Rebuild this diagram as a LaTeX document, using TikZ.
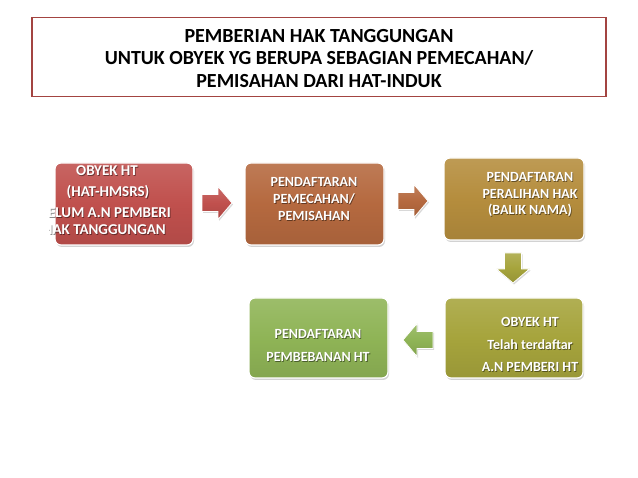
\documentclass[tikz,border=0pt]{standalone}
\usepackage{fontspec}
\setmainfont{Carlito}
\usetikzlibrary{shadows}
\definecolor{cRed}{HTML}{C0504D}
\definecolor{cOrange}{HTML}{B5693F}
\definecolor{cGold}{HTML}{B58D3D}
\definecolor{cOlive}{HTML}{A6A43C}
\definecolor{cGreen}{HTML}{8FB456}
\tikzset{
  box/.style={rounded corners=6pt, draw=white, line width=1.2pt, inner sep=0pt,
    top color=#1!88!white, bottom color=#1!92!black, middle color=#1,
    drop shadow={shadow xshift=1pt, shadow yshift=-2pt, opacity=0.35}},
  barrow/.style={draw=white, line width=0.8pt,
    top color=#1!85!white, bottom color=#1!90!black, middle color=#1,
    drop shadow={shadow xshift=1pt, shadow yshift=-1.5pt, opacity=0.3}},
  txt/.style={font=\bfseries\fontsize{14}{16}\selectfont, text=white, inner sep=0pt,
    anchor=base, yshift=-4.5pt},
  txtsh/.style={txt, text=black, opacity=0.45},
  big/.style={font=\bfseries\fontsize{15}{17}\selectfont, yshift=-0.3pt},
  ttl/.style={font=\bfseries\fontsize{20}{23}\selectfont, text=black, inner sep=0pt,
    anchor=base, yshift=-6.4pt}
}
\newcommand\shtxt[5][base]{%
  \node[txtsh, anchor=#1] (#2s) at (#3+0.8,#4+0.9) {#5};
  \node[txt, anchor=#1] (#2) at (#3,#4) {#5};}
\newcommand\shtxtb[5][base]{%
  \node[txtsh, big, anchor=#1] (#2s) at (#3+0.8,#4+0.9) {#5};
  \node[txt, big, anchor=#1] (#2) at (#3,#4) {#5};}
% block arrow: name, centre x, centre y, rotation, colour
\newcommand\blockarrow[5]{%
  \coordinate (#1) at (#2,#3);
  \begin{scope}[shift={(#1)}, rotate=#4]
    \path[barrow=#5] (-15,-8.5) -- (1,-8.5) -- (1,-16.5) -- (15,0) -- (1,16.5) -- (1,8.5) -- (-15,8.5) -- cycle;
  \end{scope}}
\begin{document}
\begin{tikzpicture}[x=1pt,y=-1pt]
\useasboundingbox[fill=white] (0,0) rectangle (638,478);
% title
\node[draw=cRed!85!black, line width=1.3pt, minimum width=574pt, minimum height=79pt, inner sep=0pt] (title) at (319,57) {};
\node[ttl] (t1) at (319,36) {PEMBERIAN HAK TANGGUNGAN};
\node[ttl] (t2) at (319,58.5) {UNTUK OBYEK YG BERUPA SEBAGIAN PEMECAHAN/};
\node[ttl] (t3) at (319,81) {PEMISAHAN DARI HAT-INDUK};
% boxes
\node[box=cRed, minimum width=138pt, minimum height=82pt] (b1) at (124,204) {};
\node[box=cOrange, minimum width=139pt, minimum height=82pt] (b2) at (314.5,204) {};
\node[box=cGold, minimum width=140pt, minimum height=82pt] (b3) at (514,199) {};
\node[box=cOlive, minimum width=138pt, minimum height=80pt] (b4) at (514,338) {};
\node[box=cGreen, minimum width=139pt, minimum height=80pt] (b5) at (318.5,338) {};
% block arrows
\blockarrow{a1}{217}{203}{0}{cRed}
\blockarrow{a2}{413}{201}{0}{cOrange}
\blockarrow{a3}{513}{268}{-90}{cOlive}
\blockarrow{a4}{418}{340}{180}{cGreen}
% texts box 1
\shtxtb{x11}{107}{171}{OBYEK HT}
\shtxtb{x12}{108}{192}{(HAT-HMSRS)}
\begin{scope}
\clip (49,200) rectangle (200,240);
\shtxtb[base east]{x13}{171}{213}{BELUM A.N PEMBERI}
\shtxtb[base east]{x14}{166}{229.5}{HAK TANGGUNGAN}
\end{scope}
% box 2
\shtxt{x21}{314}{182}{PENDAFTARAN}
\shtxt{x22}{314}{199}{PEMECAHAN/}
\shtxt{x23}{314}{216}{PEMISAHAN}
% box 3
\shtxt{x31}{530}{177}{PENDAFTARAN}
\shtxt{x32}{530}{194}{PERALIHAN HAK}
\shtxt{x33}{530}{210}{(BALIK NAMA)}
% box 4
\shtxt{x41}{530}{322}{OBYEK HT}
\shtxt{x42}{530}{345}{Telah terdaftar}
\shtxt{x43}{530}{367}{A.N PEMBERI HT}
% box 5
\shtxt{x51}{318}{334}{PENDAFTARAN}
\shtxt{x52}{318}{357}{PEMBEBANAN HT}
\end{tikzpicture}
\end{document}
